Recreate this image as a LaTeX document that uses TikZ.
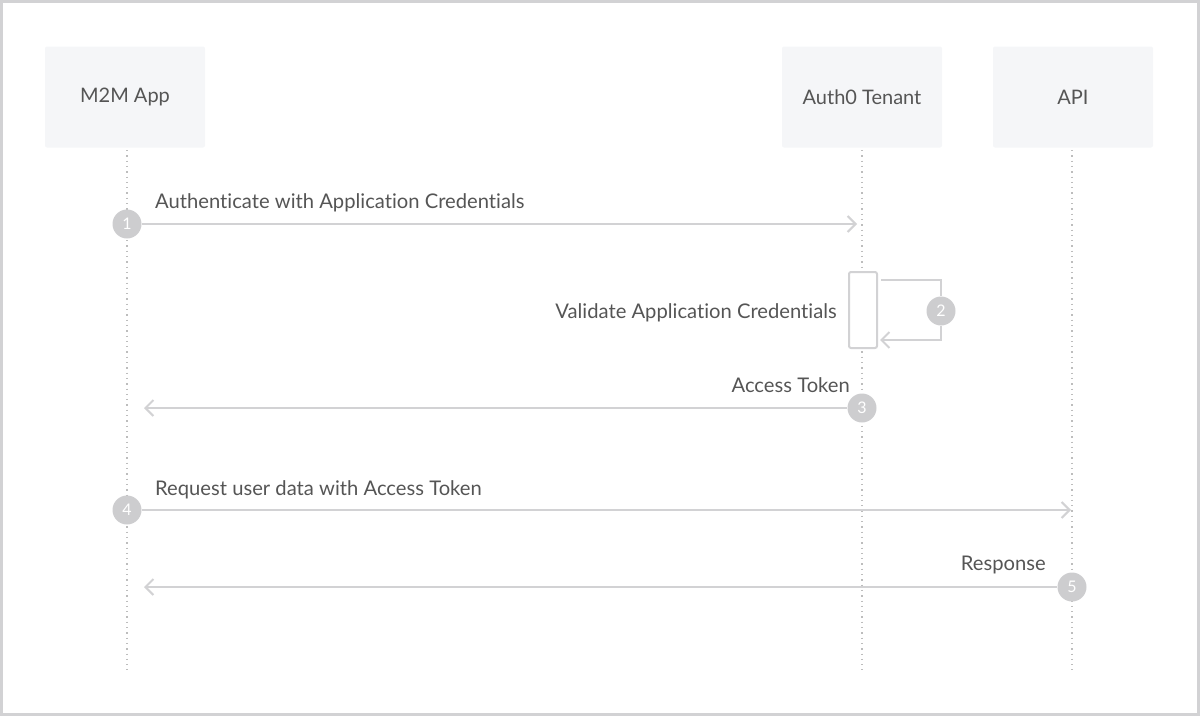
\documentclass[tikz,border=0pt]{standalone}
\usepackage{fontspec}
\setmainfont{Lato}[Ligatures=NoCommon]
\usetikzlibrary{arrows.meta,positioning}
\definecolor{boxfill}{HTML}{F5F6F8}
\definecolor{linegray}{HTML}{D2D2D4}
\definecolor{dotgray}{HTML}{BDBDBD}
\definecolor{stepgray}{HTML}{CDCDCF}
\definecolor{textgray}{HTML}{555555}
\tikzset{
  actor/.style={fill=boxfill,rounded corners=2pt,minimum width=160pt,minimum height=101pt,text=textgray,font=\fontsize{20}{23}\selectfont},
  lifeline/.style={dotgray,line width=1.3pt,dash pattern=on 1.3pt off 4pt},
  msg/.style={linegray,line width=2pt,-{Straight Barb[length=8pt,width=16pt,line width=2pt]}},
  num/.style={circle,fill=stepgray,minimum size=29pt,inner sep=0pt,text=white,font=\fontsize{16}{18}\selectfont},
  lbl/.style={text=textgray,font=\fontsize{20.2}{23}\selectfont,inner sep=0pt}
}
\begin{document}
\begin{tikzpicture}[x=1pt,y=-1pt]
\useasboundingbox (0,0) rectangle (1200,716);
\draw[linegray,line width=2.5pt] (1.5,1.5) rectangle (1198.5,714.5);      % frame

% actors
\node[actor] (app) at (125,97) {M2M App};
\node[actor] (auth) at (862,97) {Auth0 Tenant};
\node[actor] (api) at (1073,97) {API};

% lifelines
\coordinate (append) at (127,670);
\coordinate (authend) at (862,670);
\coordinate (apiend) at (1072,670);
\draw[lifeline] (127,150) -- (append);
\draw[lifeline] (862,150) -- (authend);
\draw[lifeline] (1072,150) -- (apiend);

% step 1
\node[num] (s1) at (127,224) {1};
\coordinate (t1) at (857,224);
\draw[msg] (s1) -- (t1);
\node[lbl,anchor=base west] (l1) at (155,208) {Authenticate with Application Credentials};

% step 2
\draw[linegray,line width=2pt,fill=white,rounded corners=2pt] (849,272) rectangle (877,348);  % activation
\node[num] (s2) at (941,311) {2};
\coordinate (a2) at (881,280);
\coordinate (b2) at (880,340);
\draw[linegray,line width=2pt] (a2) -| (s2);
\draw[msg] (s2) |- (b2);
\node[lbl,anchor=base east] (l2) at (837,318) {Validate Application Credentials};

% step 3
\node[num] (s3) at (862,408) {3};
\coordinate (t3) at (144,408);
\draw[msg] (s3) -- (t3);
\node[lbl,anchor=base east] (l3) at (850,392) {Access Token};

% step 4
\node[num] (s4) at (127,510) {4};
\coordinate (t4) at (1071,510);
\draw[msg] (s4) -- (t4);
\node[lbl,anchor=base west] (l4) at (155,495) {Request user data with Access Token};

% step 5
\node[num] (s5) at (1072,587) {5};
\coordinate (t5) at (144,587);
\draw[msg] (s5) -- (t5);
\node[lbl,anchor=base east] (l5) at (1046,570) {Response};

\end{tikzpicture}
\end{document}
